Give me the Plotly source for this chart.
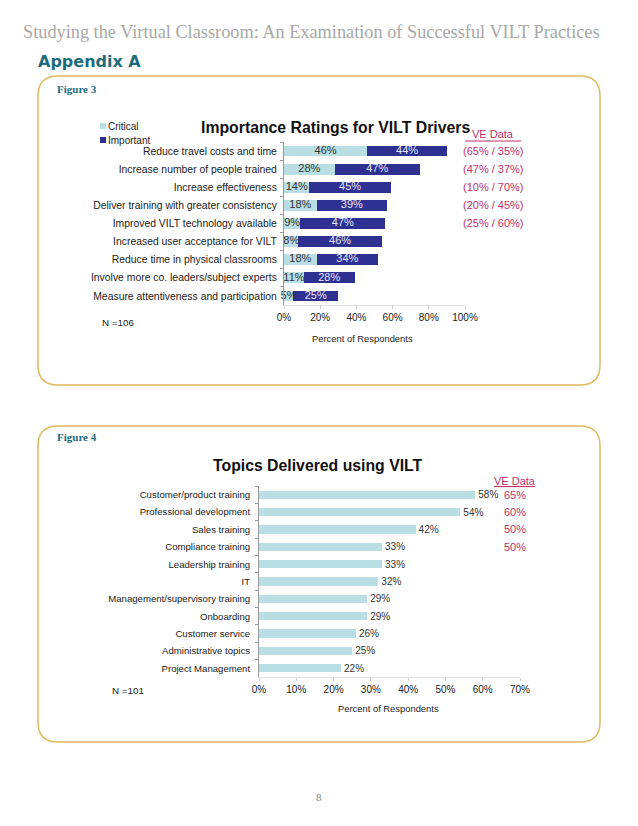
import plotly.graph_objects as go

# Page is 638x826; the browser body adds an 8px margin, so the figure is 622x810
PAGE_OFF = 8
W, H = 638 - 2 * PAGE_OFF, 826 - 2 * PAGE_OFF

# ---------------- Data ----------------
drivers = [
    "Reduce travel costs and time",
    "Increase number of people trained",
    "Increase effectiveness",
    "Deliver training with greater consistency",
    "Improved VILT technology available",
    "Increased user acceptance for VILT",
    "Reduce time in physical classrooms",
    "Involve more co. leaders/subject experts",
    "Measure attentiveness and participation",
]
critical = [46, 28, 14, 18, 9, 8, 18, 11, 5]
important = [44, 47, 45, 39, 47, 46, 34, 28, 25]
ve_drivers = ["(65% / 35%)", "(47% / 37%)", "(10% / 70%)", "(20% / 45%)", "(25% / 60%)"]

topics = [
    "Customer/product training",
    "Professional development",
    "Sales training",
    "Compliance training",
    "Leadership training",
    "IT",
    "Management/supervisory training",
    "Onboarding",
    "Customer service",
    "Administrative topics",
    "Project Management",
]
topic_pct = [58, 54, 42, 33, 33, 32, 29, 29, 26, 25, 22]
ve_topics = ["65%", "60%", "50%", "50%"]

x1_ticks = [0, 20, 40, 60, 80, 100]
x2_ticks = [0, 10, 20, 30, 40, 50, 60, 70]

# ---------------- Styles ----------------
C_CRIT = "#b9dfe4"
C_IMP = "#2e3192"
C_VE = "#c2306a"
C_GOLD = "#dfbb5e"
C_TEAL = "#1c6c7c"
FONT = "Liberation Sans, Arial, sans-serif"
SERIF = "Liberation Serif, Times New Roman, serif"


def px(x):
    return (x - PAGE_OFF) / W


def py(y):
    return 1 - (y - PAGE_OFF) / H


fig = go.Figure()

# Figure 3 bars
fig.add_trace(go.Bar(
    y=drivers, x=critical, orientation="h", name="Critical",
    marker=dict(color=C_CRIT, line=dict(width=0)), width=0.6,
    xaxis="x", yaxis="y", showlegend=False,
))
fig.add_trace(go.Bar(
    y=drivers, x=important, orientation="h", name="Important",
    marker=dict(color=C_IMP, line=dict(width=0)), width=0.6,
    xaxis="x", yaxis="y", showlegend=False,
))
fig.add_trace(go.Scatter(
    y=drivers, x=[c / 2 for c in critical], mode="text",
    text=[f"{c}%" for c in critical],
    textfont=dict(family=FONT, size=11, color="#333333"),
    xaxis="x", yaxis="y", showlegend=False, hoverinfo="skip", cliponaxis=False,
))
fig.add_trace(go.Scatter(
    y=drivers, x=[c + i / 2 for c, i in zip(critical, important)], mode="text",
    text=[f"{i}%" for i in important],
    textfont=dict(family=FONT, size=11, color="#e4e4f6"),
    xaxis="x", yaxis="y", showlegend=False, hoverinfo="skip", cliponaxis=False,
))

# Figure 4 bars
fig.add_trace(go.Bar(
    y=topics, x=topic_pct, orientation="h", name="Topics",
    marker=dict(color=C_CRIT, line=dict(width=0)), width=0.48,
    text=[f"{v}%" for v in topic_pct], textposition="outside", constraintext="none",
    textfont=dict(family=FONT, size=10, color="#333333"),
    cliponaxis=False, xaxis="x2", yaxis="y2", showlegend=False,
))


def xaxis_style(size):
    return dict(showgrid=False, zeroline=False, automargin=False,
                tickfont=dict(family=FONT, size=size, color="#222222"),
                showline=True, linecolor="#e2e2e2", linewidth=1,
                ticks="outside", ticklen=3, tickcolor="#d0d0d0")


def yaxis_style(size, standoff):
    return dict(showgrid=False, zeroline=False, automargin=False,
                tickfont=dict(family=FONT, size=size, color="#222222"),
                showline=True, linecolor="#9a9a9a", linewidth=1,
                ticks="outside", ticklen=3, tickcolor="#9a9a9a", tickson="boundaries",
                ticklabelstandoff=standoff)


fig.update_layout(
    width=W, height=H, margin=dict(l=0, r=0, t=0, b=0, pad=0, autoexpand=False),
    paper_bgcolor="white", plot_bgcolor="rgba(0,0,0,0)",
    barmode="stack", showlegend=False,
    font=dict(family=FONT, color="#222222"),
    xaxis=dict(domain=[px(284), px(465)], range=[0, 100], anchor="y",
               tickvals=x1_ticks, ticktext=[f"{t}%" for t in x1_ticks],
               **xaxis_style(10)),
    yaxis=dict(domain=[py(305), py(142)], autorange="reversed", anchor="x",
               **yaxis_style(10.4, 4)),
    xaxis2=dict(domain=[px(259), px(520)], range=[0, 70], anchor="y2",
                tickvals=x2_ticks, ticktext=[f"{t}%" for t in x2_ticks],
                **xaxis_style(10)),
    yaxis2=dict(domain=[py(677), py(486)], autorange="reversed", anchor="x2",
                **yaxis_style(9.6, 6)),
)

shapes = []


def rounded_rect(x0, y0, x1, y1, r):
    X0, X1 = px(x0), px(x1)
    Y0, Y1 = py(y0), py(y1)
    rx, ry = r / W, r / H
    path = (f"M {X0+rx},{Y0} L {X1-rx},{Y0} Q {X1},{Y0} {X1},{Y0-ry} "
            f"L {X1},{Y1+ry} Q {X1},{Y1} {X1-rx},{Y1} "
            f"L {X0+rx},{Y1} Q {X0},{Y1} {X0},{Y1+ry} "
            f"L {X0},{Y0-ry} Q {X0},{Y0} {X0+rx},{Y0} Z")
    return dict(type="path", xref="paper", yref="paper", path=path,
                line=dict(color=C_GOLD, width=1.5), layer="below")


shapes.append(rounded_rect(38, 76, 600, 385, 20))
shapes.append(rounded_rect(38, 426, 600, 742, 20))
# VE Data underline fig 3
shapes.append(dict(type="line", xref="paper", yref="paper",
                   x0=px(465), x1=px(521), y0=py(141), y1=py(141),
                   line=dict(color=C_VE, width=1.2)))
# legend swatches
for yc, col in [(126, C_CRIT), (140, C_IMP)]:
    shapes.append(dict(type="rect", xref="paper", yref="paper",
                       x0=px(100), x1=px(106), y0=py(yc - 3), y1=py(yc + 3),
                       fillcolor=col, line=dict(width=0)))
fig.update_layout(shapes=shapes)

ann = []


def text(x, y, s, size=10, color="#222222", family=FONT, xanchor="center", bold=False):
    if bold:
        s = f"<b>{s}</b>"
    ann.append(dict(x=px(x), y=py(y), xref="paper", yref="paper", text=s,
                    showarrow=False, xanchor=xanchor, yanchor="middle",
                    font=dict(family=family, size=size, color=color)))


text(311, 32, "Studying the Virtual Classroom: An Examination of Successful VILT Practices",
     size=18.3, color="#a8a8a8", family=SERIF)
text(36, 62, "Appendix A", size=16, color=C_TEAL, xanchor="left", bold=True,
     family="DejaVu Sans, Verdana, sans-serif")
text(55, 89, "Figure 3", size=11, color=C_TEAL, family=SERIF, xanchor="left", bold=True)
text(55, 437, "Figure 4", size=11, color=C_TEAL, family=SERIF, xanchor="left", bold=True)

# manual legend
text(106, 126, "Critical", size=10, xanchor="left")
text(106, 140, "Important", size=10, xanchor="left")

text(335, 127, "Importance Ratings for VILT Drivers", size=15.8, color="#111111", bold=True)
text(493, 134, "VE Data", size=11, color=C_VE)
for cat, s in zip(drivers, ve_drivers):
    ann.append(dict(x=px(493), y=cat, xref="paper", yref="y", text=s, showarrow=False,
                    xanchor="center", yanchor="middle",
                    font=dict(family=FONT, size=11, color=C_VE)))
text(362, 338, "Percent of Respondents", size=9.4)
text(118, 323, "N =106", size=9.8)

text(318, 465, "Topics Delivered using VILT", size=15.8, color="#111111", bold=True)
text(515, 481, "<u>VE Data</u>", size=11, color=C_VE)
for cat, s in zip(topics, ve_topics):
    ann.append(dict(x=px(515), y=cat, xref="paper", yref="y2", text=s, showarrow=False,
                    xanchor="center", yanchor="middle",
                    font=dict(family=FONT, size=11, color=C_VE)))
text(388, 708, "Percent of Respondents", size=9.4)
text(128, 690, "N =101", size=9.8)

text(319, 797, "8", size=11, color="#888888", family=SERIF)

fig.update_layout(annotations=ann)

fig.write_html("out.html")
